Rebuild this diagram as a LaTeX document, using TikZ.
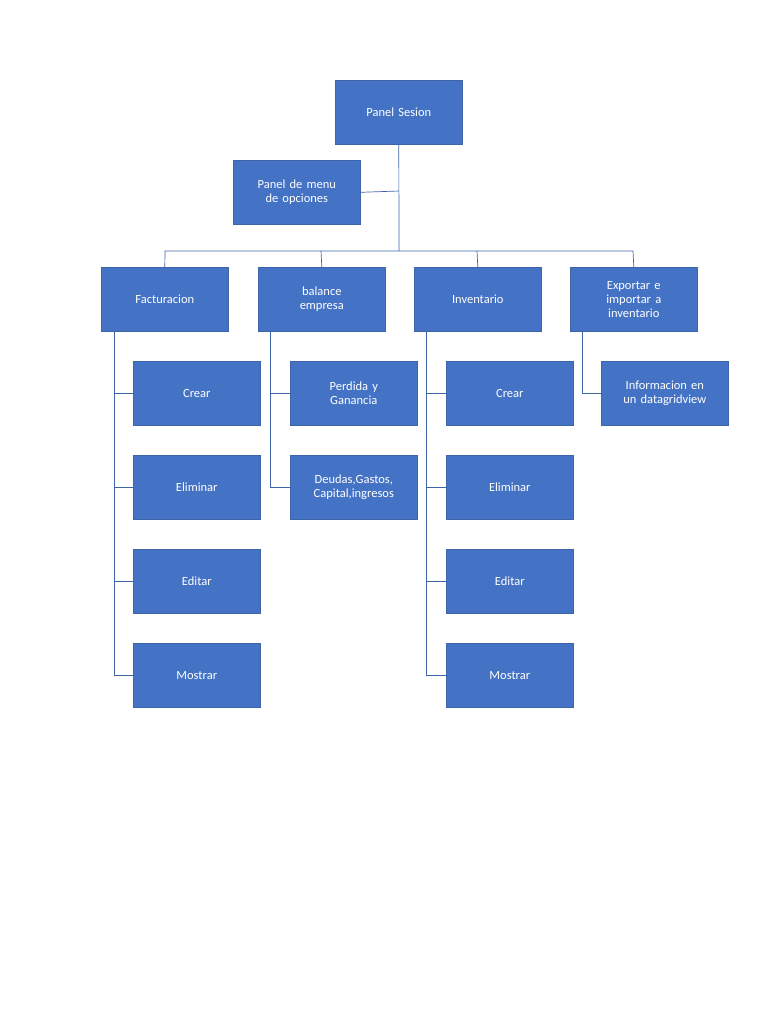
\documentclass[tikz,border=0pt]{standalone}
\usepackage{fontspec}
\setmainfont{Carlito}
\definecolor{bx}{HTML}{4472C4}
\definecolor{ln}{HTML}{3F64A8}
\begin{document}
\begin{tikzpicture}[x=1pt,y=-1pt,
 b/.style={draw=ln,line width=0.6pt,fill=bx,text=white,minimum width=127pt,minimum height=64pt,inner sep=2pt,align=center,font=\fontsize{12.5}{14}\selectfont,anchor=north west,text width=123pt},
 c/.style={draw=ln,line width=0.7pt}]
\useasboundingbox (0,0) rectangle (768,1024);
\fill[white] (0,0) rectangle (768,1024);
\node[b] (ps) at (335,80) {Panel Sesion};
\node[b] (pm) at (233,160) {Panel de menu\\de opciones};
\node[b] (fa) at (101,267) {Facturacion};
\node[b] (ba) at (258,267) {balance\\empresa};
\node[b] (in) at (414,267) {Inventario};
\node[b] (ex) at (570,267) {Exportar e\\importar a\\inventario};
\node[b] (f1) at (133,361) {Crear};
\node[b] (f2) at (133,455) {Eliminar};
\node[b] (f3) at (133,549) {Editar};
\node[b] (f4) at (133,643) {Mostrar};
\node[b] (b1) at (290,361) {Perdida y\\Ganancia};
\node[b] (b2) at (290,455) {Deudas,Gastos,\\Capital,ingresos};
\node[b] (i1) at (446,361) {Crear};
\node[b] (i2) at (446,455) {Eliminar};
\node[b] (i3) at (446,549) {Editar};
\node[b] (i4) at (446,643) {Mostrar};
\node[b] (e1) at (601,361) {Informacion en\\un datagridview};
\coordinate (bus) at (399,251);
\coordinate (mj) at (399,191);
\draw[c] (ps.south) -- (bus);
\draw[c] (pm.east) -- (mj);
\draw[c] (fa.north) -- (165,251) -- (633,251) -- (ex.north);
\draw[c] (ba.north) -- (321,251);
\draw[c] (in.north) -- (477,251);
\foreach \p/\x/\l in {fa/114/f4, ba/270/b2, in/426/i4}{
  \draw[c] (\x,331) |- (\l.west);}
\foreach \n/\x in {f1/114,f2/114,f3/114,b1/270,i1/426,i2/426,i3/426}{
  \draw[c] (\x,0 |- \n.west) -- (\n.west);}
\draw[c] (582,331) |- (e1.west);
\end{tikzpicture}
\end{document}
